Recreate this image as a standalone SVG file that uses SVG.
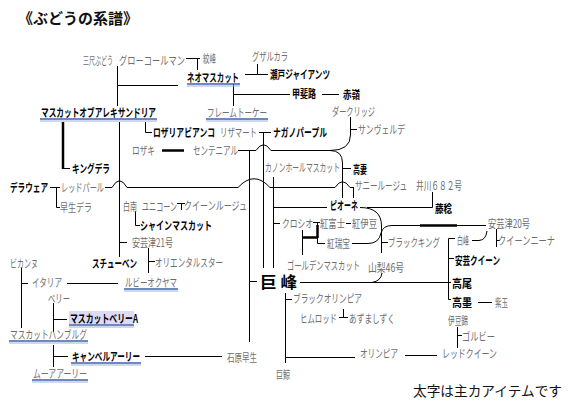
<svg xmlns="http://www.w3.org/2000/svg" width="572" height="410" viewBox="0 0 572 410">
<style>
text{font-family:"Noto Sans CJK JP","Noto Sans CJK SC",sans-serif;font-size:11.5px;fill:#6e6e6e}
.b{font-weight:bold;fill:#000}
.big{font-size:16px;font-weight:bold;fill:#000}
.ttl{font-size:15px;font-weight:bold;fill:#111}
.note{font-size:13.5px;fill:#111}
.c path{fill:none;stroke:#000;stroke-width:1}
.c .k{stroke-width:2.5}
.u1{stroke:#3f62a8;stroke-width:1.5}
.u2{stroke:#9db2dc;stroke-width:1}
</style>
<rect width="572" height="410" fill="#fff"/>
<text class="ttl" x="18" y="24" textLength="120" lengthAdjust="spacingAndGlyphs">《ぶどうの系譜》</text>
<g class="c" id="connectors">
<path d="M117.5 66V106M117.5 85.5H178"/>
<path d="M186 58.5H200M197.5 58.5V70"/>
<path d="M257.5 64V74.5M245 74.5H268"/>
<path d="M233.5 84V106M233.5 94.5H290"/>
<path d="M322 94.5H339"/>
<path d="M145.5 122V132.5H152"/>
<path class="k" d="M63 122V169"/>
<path d="M63 168.5H70"/>
<path d="M119.5 122V257M119.5 242.5H127"/>
<path class="k" d="M162 150.5H184"/>
<path d="M238 150.5H256Q263.5 139 271 150.5H330Q350.5 150.5 350.5 135V117M350.5 129.5H357"/>
<path d="M330 150.5Q342.5 150.5 342.5 163V198M342.5 168.5H351"/>
<path d="M249.5 150.5V342M249.5 281.5H257"/>
<path d="M259 132.5H271M263.5 132.5V268"/>
<path d="M273.5 177V268M273.5 207.5H327M273.5 223.5H280"/>
<path d="M50 187.5H60M56.5 187.5V207.5H60"/>
<path d="M105 187.5H112Q119.5 174 127 187.5H238Q254 170 270 187.5H335Q342.5 176 350 187.5H354M353.5 187.5V198"/>
<path d="M135.5 211V225.5H140"/>
<path d="M177 203.5H185M181.5 203.5V210"/>
<path d="M148.5 248V273M148.5 261.5H155"/>
<path d="M21.5 268V328M21.5 283.5H28"/>
<path d="M67 283.5H118"/>
<path d="M53.5 303V332M53.5 319.5H67"/>
<path d="M53.5 345V367M53.5 356.5H68"/>
<path d="M145 356.5H222"/>
<path d="M300 282.5H451M372 282.5Q381 281 382 273"/>
<path d="M285.5 293V363M285.5 299.5H292M285.5 357.5H355"/>
<path d="M343.5 309V317.5M339 317.5H348"/>
<path d="M448.5 238.5V299.5H451M448.5 238.5H455M448.5 258.5H454"/>
<path d="M478 302.5H492"/>
<path d="M457.5 327V348M457.5 335.5H462"/>
<path d="M405 355.5H437"/>
<path d="M367 207.5H432.5M432.5 192V207.5"/>
<path d="M360 207.5Q381.5 207.5 381.5 226V253"/>
<path d="M352 243.5H368Q379 243.5 381 233Q383 225.5 392 225.5H486"/>
<path class="k" d="M420 225.5H457"/>
<path d="M381.5 242.5H388"/>
<path d="M313 222.5H320M317.5 222.5V243.5H325"/>
<path class="k" d="M317.5 225V238"/>
<path d="M302.5 230V255"/>
<path class="k" d="M302.5 237.5H317"/>
<path d="M346 223.5H351"/>
<path d="M472 240.5H479Q486 240 487 231"/>
<path d="M496.5 229V247M496.5 240.5H500"/>
</g>
<g id="n1"><text x="83" y="64.5" textLength="30" lengthAdjust="spacingAndGlyphs">三尺ぶどう</text></g>
<g id="n2"><text x="119" y="64.5" textLength="66" lengthAdjust="spacingAndGlyphs">グローコールマン</text></g>
<g id="n3"><text x="203" y="62.5" textLength="13" lengthAdjust="spacingAndGlyphs">紋峰</text></g>
<g id="n4"><text x="252" y="60.5" textLength="36" lengthAdjust="spacingAndGlyphs">グザルカラ</text></g>
<g id="n5"><text class="b" x="187" y="81.5" textLength="52" lengthAdjust="spacingAndGlyphs">ネオマスカット</text><line class="u1" x1="187" y1="84" x2="240" y2="84"/><line class="u2" x1="187" y1="86" x2="240" y2="86"/></g>
<g id="n6"><text class="b" x="270" y="78.5" textLength="60" lengthAdjust="spacingAndGlyphs">瀬戸ジャイアンツ</text></g>
<g id="n7"><text class="b" x="292" y="98" textLength="24" lengthAdjust="spacingAndGlyphs">甲斐路</text></g>
<g id="n8"><text class="b" x="343" y="98.5" textLength="17" lengthAdjust="spacingAndGlyphs">赤嶺</text></g>
<g id="n9"><text x="207" y="116.5" textLength="60" lengthAdjust="spacingAndGlyphs">フレームトーケー</text><line class="u1" x1="206" y1="119" x2="268" y2="119"/><line class="u2" x1="206" y1="121" x2="268" y2="121"/></g>
<g id="n10"><text class="b" x="41" y="116.5" textLength="115" lengthAdjust="spacingAndGlyphs">マスカットオブアレキサンドリア</text><line class="u1" x1="40" y1="119" x2="157" y2="119"/><line class="u2" x1="40" y1="121" x2="157" y2="121"/></g>
<g id="n11"><text class="b" x="153" y="136.5" textLength="62" lengthAdjust="spacingAndGlyphs">ロザリアビアンコ</text></g>
<g id="n12"><text x="220" y="136.5" textLength="37" lengthAdjust="spacingAndGlyphs">リザマート</text></g>
<g id="n13"><text class="b" x="273" y="136.5" textLength="54" lengthAdjust="spacingAndGlyphs">ナガノパープル</text></g>
<g id="n14"><text x="332" y="115.5" textLength="43" lengthAdjust="spacingAndGlyphs">ダークリッジ</text></g>
<g id="n15"><text x="358" y="133.5" textLength="47" lengthAdjust="spacingAndGlyphs">サンヴェルデ</text></g>
<g id="n16"><text x="132" y="154.5" textLength="23" lengthAdjust="spacingAndGlyphs">ロザキ</text></g>
<g id="n17"><text x="193" y="154.5" textLength="45" lengthAdjust="spacingAndGlyphs">センテニアル</text></g>
<g id="n18"><text class="b" x="72" y="172.5" textLength="38" lengthAdjust="spacingAndGlyphs">キングデラ</text></g>
<g id="n19"><text x="265" y="171.5" textLength="75" lengthAdjust="spacingAndGlyphs">カノンホールマスカット</text></g>
<g id="n20"><text class="b" x="353" y="173.5" textLength="14" lengthAdjust="spacingAndGlyphs">高妻</text></g>
<g id="n21"><text class="b" x="10" y="191.5" textLength="38" lengthAdjust="spacingAndGlyphs">デラウェア</text></g>
<g id="n22"><text x="61" y="191.5" textLength="43" lengthAdjust="spacingAndGlyphs">レッドパール</text></g>
<g id="n23"><text x="355" y="189.5" textLength="52" lengthAdjust="spacingAndGlyphs">サニールージュ</text></g>
<g id="n24"><text x="416" y="189.5" textLength="46" lengthAdjust="spacingAndGlyphs">井川６８２号</text></g>
<g id="n25"><text x="60" y="211.5" textLength="32" lengthAdjust="spacingAndGlyphs">早生デラ</text></g>
<g id="n26"><text x="123" y="210.5" textLength="14" lengthAdjust="spacingAndGlyphs">白南</text></g>
<g id="n27"><text x="142" y="210.5" textLength="35" lengthAdjust="spacingAndGlyphs">ユニコーン</text></g>
<g id="n28"><text x="184" y="209.5" textLength="63" lengthAdjust="spacingAndGlyphs">クイーンルージュ</text></g>
<g id="n29"><text class="b" x="330" y="209.5" textLength="28" lengthAdjust="spacingAndGlyphs">ピオーネ</text></g>
<g id="n30"><text class="b" x="435" y="212.5" textLength="17" lengthAdjust="spacingAndGlyphs">藤稔</text></g>
<g id="n31"><text class="b" x="140" y="229.5" textLength="72" lengthAdjust="spacingAndGlyphs">シャインマスカット</text></g>
<g id="n32"><text x="282" y="227.5" textLength="31" lengthAdjust="spacingAndGlyphs">クロシオ</text></g>
<g id="n33"><text x="320" y="227.5" textLength="25" lengthAdjust="spacingAndGlyphs">紅富士</text></g>
<g id="n34"><text x="352" y="227.5" textLength="25" lengthAdjust="spacingAndGlyphs">紅伊豆</text></g>
<g id="n35"><text x="488" y="227.5" textLength="42" lengthAdjust="spacingAndGlyphs">安芸津20号</text></g>
<g id="n36"><text x="132" y="246.5" textLength="41" lengthAdjust="spacingAndGlyphs">安芸津21号</text></g>
<g id="n37"><text x="327" y="247.5" textLength="23" lengthAdjust="spacingAndGlyphs">紅瑞宝</text></g>
<g id="n38"><text x="388" y="246.5" textLength="52" lengthAdjust="spacingAndGlyphs">ブラックキング</text></g>
<g id="n39"><text x="457" y="244.5" textLength="12" lengthAdjust="spacingAndGlyphs">白峰</text></g>
<g id="n40"><text x="498" y="244.5" textLength="57" lengthAdjust="spacingAndGlyphs">クイーンニーナ</text></g>
<g id="n41"><text x="10" y="267.5" textLength="28" lengthAdjust="spacingAndGlyphs">ビカンヌ</text></g>
<g id="n42"><text class="b" x="92" y="267.5" textLength="45" lengthAdjust="spacingAndGlyphs">スチューベン</text></g>
<g id="n43"><text x="155" y="266.5" textLength="68" lengthAdjust="spacingAndGlyphs">オリエンタルスター</text></g>
<g id="n44"><text x="287" y="269.5" textLength="73" lengthAdjust="spacingAndGlyphs">ゴールデンマスカット</text></g>
<g id="n45"><text x="368" y="271.5" textLength="36" lengthAdjust="spacingAndGlyphs">山梨46号</text></g>
<g id="n46"><text class="b" x="455" y="264.5" textLength="45" lengthAdjust="spacingAndGlyphs">安芸クイーン</text></g>
<g id="n47"><text x="32" y="286.5" textLength="30" lengthAdjust="spacingAndGlyphs">イタリア</text></g>
<g id="n48"><text x="125" y="286.5" textLength="52" lengthAdjust="spacingAndGlyphs">ルビーオクヤマ</text><line class="u1" x1="124" y1="289" x2="178" y2="289"/><line class="u2" x1="124" y1="291" x2="178" y2="291"/></g>
<g id="n49"><text class="big" x="260" y="287.5" textLength="37" lengthAdjust="spacingAndGlyphs">巨 峰</text></g>
<g id="n50"><text class="b" x="452" y="287.5" textLength="20" lengthAdjust="spacingAndGlyphs">高尾</text></g>
<g id="n51"><text x="48" y="302.5" textLength="22" lengthAdjust="spacingAndGlyphs">ベリー</text></g>
<g id="n52"><text x="293" y="302.5" textLength="69" lengthAdjust="spacingAndGlyphs">ブラックオリンピア</text></g>
<g id="n53"><text class="b" x="452" y="306.5" textLength="20" lengthAdjust="spacingAndGlyphs">高墨</text></g>
<g id="n54"><text x="495" y="306.5" textLength="13" lengthAdjust="spacingAndGlyphs">紫玉</text></g>
<g id="n55"><rect x="69" y="311" width="65" height="13" fill="#dcdcf8"/><text class="b" x="70" y="322.5" textLength="68" lengthAdjust="spacingAndGlyphs">マスカットベリーA</text><line class="u1" x1="69" y1="325" x2="134" y2="325"/><line class="u2" x1="69" y1="327" x2="134" y2="327"/></g>
<g id="n56"><text x="300" y="322.5" textLength="37" lengthAdjust="spacingAndGlyphs">ヒムロッド</text></g>
<g id="n57"><text x="349" y="322.5" textLength="46" lengthAdjust="spacingAndGlyphs">あずましずく</text></g>
<g id="n58"><text x="448" y="324.5" textLength="20" lengthAdjust="spacingAndGlyphs">伊豆錦</text></g>
<g id="n59"><text x="10" y="338.5" textLength="77" lengthAdjust="spacingAndGlyphs">マスカットハンブルグ</text><line class="u1" x1="9" y1="341" x2="88" y2="341"/><line class="u2" x1="9" y1="343" x2="88" y2="343"/></g>
<g id="n60"><text x="462" y="340.5" textLength="33" lengthAdjust="spacingAndGlyphs">ゴルビー</text></g>
<g id="n61"><text class="b" x="72" y="360.5" textLength="68" lengthAdjust="spacingAndGlyphs">キャンベルアーリー</text><line class="u1" x1="71" y1="363" x2="141" y2="363"/><line class="u2" x1="71" y1="365" x2="141" y2="365"/></g>
<g id="n62"><text x="227" y="361.5" textLength="30" lengthAdjust="spacingAndGlyphs">石原早生</text></g>
<g id="n63"><text x="360" y="357.5" textLength="38" lengthAdjust="spacingAndGlyphs">オリンピア</text></g>
<g id="n64"><text x="442" y="357.5" textLength="55" lengthAdjust="spacingAndGlyphs">レッドクイーン</text></g>
<g id="n65"><text x="33" y="377.5" textLength="54" lengthAdjust="spacingAndGlyphs">ムーアアーリー</text><line class="u1" x1="32" y1="380" x2="88" y2="380"/><line class="u2" x1="32" y1="382" x2="88" y2="382"/></g>
<g id="n66"><text x="276" y="378.5" textLength="14" lengthAdjust="spacingAndGlyphs">巨鯨</text></g>
<text class="note" x="413" y="396" textLength="149" lengthAdjust="spacingAndGlyphs">太字は主カアイテムです</text>
</svg>
